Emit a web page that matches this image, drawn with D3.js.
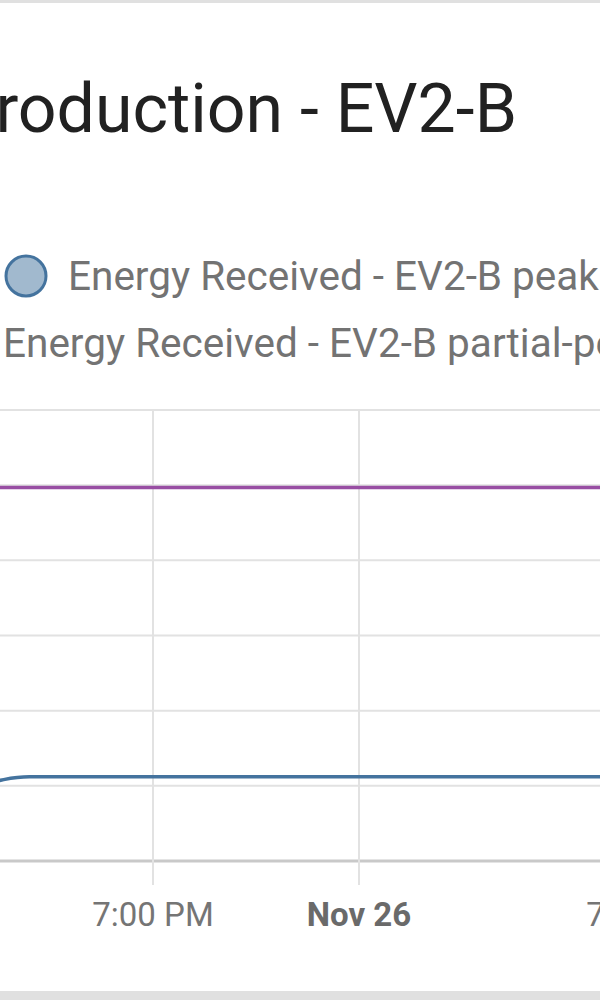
<!DOCTYPE html>
<html>
<head>
<meta charset="utf-8">
<script src="https://cdn.jsdelivr.net/npm/d3@7"></script>
<style>
  html, body { margin: 0; padding: 0; background: #fff; }
  body { width: 600px; height: 1000px; overflow: hidden; font-family: Roboto, "Noto Sans", sans-serif; }
</style>
</head>
<body>
<div id="chart"></div>
<script>
const title = 'Production - EV2-B';

const seriesNames = ['Energy Received - EV2-B peak', 'Energy Received - EV2-B partial-peak'];
const seriesColors = ['#44739e', '#984ea3'];

// time stamps, Nov 25 -> Nov 26
const peakTimes = ['2023-11-25T14:45', '2023-11-25T16:00', '2023-11-26T08:00'];
const peakValues = [1.0, 1.12, 1.12];

const partialTimes = ['2023-11-25T14:45', '2023-11-26T08:00'];
const partialValues = [4.97, 4.97];

const yTicks = [0, 1, 2, 3, 4, 5, 6];
const xTickTimes = ['2023-11-25T19:00', '2023-11-26T00:00', '2023-11-26T07:00'];
const xTickLabels = ['7:00 PM', 'Nov 26', '7:00 AM'];

const parse = d3.isoParse;
const width = 600, height = 1000;

let svg = d3.select('#chart').append('svg')
  .attr('width', width)
  .attr('height', height);

// card edges
svg.append('rect').attr('x', 0).attr('y', 0).attr('width', width).attr('height', 3).attr('fill', '#e0e0e0');
svg.append('rect').attr('x', 0).attr('y', 991).attr('width', width).attr('height', 9).attr('fill', '#e0e0e0');

// title (starts off the left edge)
svg.append('text')
  .attr('x', 517)
  .attr('y', 132)
  .attr('text-anchor', 'end')
  .attr('font-size', 68)
  .attr('fill', '#212121')
  .text(title);

// legend
let legend = svg.append('g');
let legendPos = [[26, 276, 68, 290], [-38, 343, 3, 357]];
seriesNames.forEach((name, i) => {
  let p = legendPos[i];
  legend.append('circle')
    .attr('cx', p[0]).attr('cy', p[1]).attr('r', 20)
    .attr('fill', d3.color(seriesColors[i]).copy({opacity: 0.5}))
    .attr('stroke', seriesColors[i])
    .attr('stroke-width', 3);
  legend.append('text')
    .attr('x', p[2]).attr('y', p[3])
    .attr('font-size', 40.5)
    .attr('fill', '#737373')
    .text(name);
});

// scales
let x = d3.scaleTime()
  .domain([parse('2023-11-25T19:00'), parse('2023-11-26T00:00')])
  .range([153, 359]);

let y = d3.scaleLinear()
  .domain([0, 6])
  .range([861, 410]);

let grid = svg.append('g');

grid.selectAll('line.h')
  .data(yTicks)
  .enter()
  .append('line')
  .attr('class', 'h')
  .attr('x1', 0).attr('x2', width)
  .attr('y1', d => y(d)).attr('y2', d => y(d))
  .attr('stroke', d => d === 0 ? '#c9c9c9' : '#e2e2e2')
  .attr('stroke-width', d => d === 0 ? 3 : 2);

grid.selectAll('line.v')
  .data(xTickTimes)
  .enter()
  .append('line')
  .attr('class', 'v')
  .attr('x1', d => x(parse(d))).attr('x2', d => x(parse(d)))
  .attr('y1', y(6)).attr('y2', y(0) + 24)
  .attr('stroke', '#e2e2e2')
  .attr('stroke-width', 2);

svg.append('g').selectAll('text')
  .data(xTickTimes)
  .enter()
  .append('text')
  .attr('x', d => x(parse(d)))
  .attr('y', 926)
  .attr('text-anchor', 'middle')
  .attr('font-size', 33)
  .attr('font-weight', (d, i) => xTickLabels[i] === 'Nov 26' ? 'bold' : 'normal')
  .attr('fill', (d, i) => xTickLabels[i] === 'Nov 26' ? '#6a6a6a' : '#757575')
  .text((d, i) => xTickLabels[i]);

// lines
let line = d3.line()
  .x(d => x(parse(d[0])))
  .y(d => y(d[1]))
  .curve(d3.curveMonotoneX);

let lines = svg.append('g');

lines.append('path')
  .datum(partialTimes.map((t, i) => [t, partialValues[i]]))
  .attr('d', line)
  .attr('fill', 'none')
  .attr('stroke', seriesColors[1])
  .attr('stroke-width', 3.5);

lines.append('path')
  .datum(peakTimes.map((t, i) => [t, peakValues[i]]))
  .attr('d', line)
  .attr('fill', 'none')
  .attr('stroke', seriesColors[0])
  .attr('stroke-width', 3.5);
</script>
</body>
</html>
